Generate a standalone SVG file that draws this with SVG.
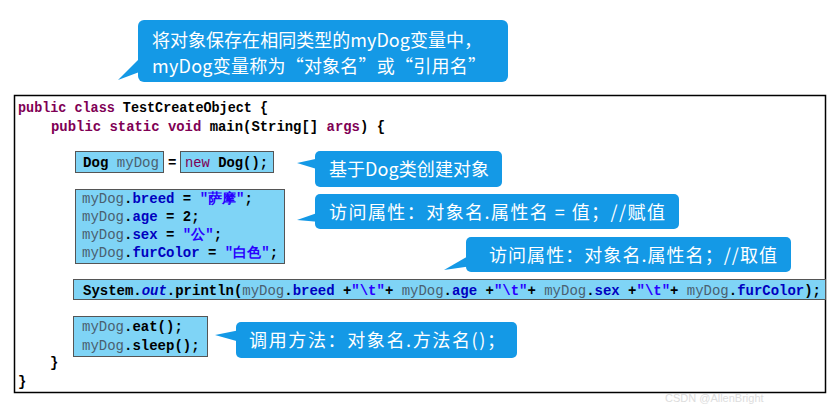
<svg xmlns="http://www.w3.org/2000/svg" width="839" height="413" viewBox="0 0 839 413">
<style>
.code{font-family:"Liberation Mono","DejaVu Sans Mono",monospace;font-size:14px;font-weight:bold;fill:#000}
.kw{fill:#7f0055}.fd{fill:#0000c0}.st{fill:#2a00ff}.vr{fill:#4a6070;font-weight:normal}
.hl{fill:#7fd4f6;stroke:#555;stroke-width:1}
.co{fill:#1499e6}
.ct{font-family:"Noto Sans CJK SC","Noto Sans",sans-serif;font-size:18px;fill:#fff}
</style>
<rect width="839" height="413" fill="#fff"/>
<g id="codebox">
<rect x="14.5" y="95.5" width="811" height="297" fill="#fff" stroke="#000" stroke-width="1.5"/>
<text class="code" x="18" y="112" textLength="250" lengthAdjust="spacingAndGlyphs"><tspan class="kw">public class</tspan> TestCreateObject {</text>
<text class="code" x="51" y="131" textLength="334" lengthAdjust="spacingAndGlyphs"><tspan class="kw">public static void</tspan> main(String[] <tspan class="kw">args</tspan>) {</text>
<text class="code" x="50" y="367">}</text>
<text class="code" x="18" y="386">}</text>
</g>
<g id="create">
<rect class="hl" x="75.5" y="151.5" width="88" height="21"/>
<rect class="hl" x="180.5" y="151.5" width="93" height="21"/>
<text class="code" x="83" y="167" textLength="76" lengthAdjust="spacingAndGlyphs">Dog <tspan class="vr">myDog</tspan></text>
<text class="code" x="168" y="167">=</text>
<text class="code" x="185" y="167" textLength="83" lengthAdjust="spacingAndGlyphs"><tspan class="kw" font-weight="normal">new</tspan> Dog();</text>
</g>
<g id="assign">
<rect class="hl" x="75.5" y="189.5" width="209" height="74"/>
<text class="code" x="82" y="203"><tspan class="vr">myDog</tspan>.<tspan class="fd">breed</tspan> = <tspan class="st">"萨摩"</tspan>;</text>
<text class="code" x="82" y="221"><tspan class="vr">myDog</tspan>.<tspan class="fd">age</tspan> = 2;</text>
<text class="code" x="82" y="239"><tspan class="vr">myDog</tspan>.<tspan class="fd">sex</tspan> = <tspan class="st">"公"</tspan>;</text>
<text class="code" x="82" y="257"><tspan class="vr">myDog</tspan>.<tspan class="fd">furColor</tspan> = <tspan class="st">"白色"</tspan>;</text>
</g>
<g id="println">
<rect class="hl" x="73.5" y="279.5" width="752" height="20"/>
<text class="code" x="83" y="295" textLength="738" lengthAdjust="spacingAndGlyphs">System.<tspan class="fd" font-style="italic">out</tspan>.println(<tspan class="vr">myDog</tspan>.<tspan class="fd">breed</tspan> +<tspan class="st">"\t"</tspan>+ <tspan class="vr">myDog</tspan>.<tspan class="fd">age</tspan> +<tspan class="st">"\t"</tspan>+ <tspan class="vr">myDog</tspan>.<tspan class="fd">sex</tspan> +<tspan class="st">"\t"</tspan>+ <tspan class="vr">myDog</tspan>.<tspan class="fd">furColor</tspan>);</text>
</g>
<g id="methods">
<rect class="hl" x="73.5" y="316.5" width="134" height="40"/>
<text class="code" x="82" y="331"><tspan class="vr">myDog</tspan>.eat();</text>
<text class="code" x="82" y="350"><tspan class="vr">myDog</tspan>.sleep();</text>
</g>
<g id="connectors">
<path class="co" d="M148 50 L118 80 L150 68 Z"/>
<path class="co" d="M320 158 L297 163 L320 170 Z"/>
<path class="co" d="M320 212 L297 220 L320 222 Z"/>
<path class="co" d="M470 255 L444 270 L472 266 Z"/>
<path class="co" d="M240 330 L215 335 L240 342 Z"/>
</g>
<g id="callout-top">
<rect class="co" x="138" y="20" width="370" height="62" rx="6"/>
<text class="ct" x="152" y="47" textLength="330">将对象保存在相同类型的myDog变量中，</text>
<text class="ct" x="152" y="73" textLength="334">myDog变量称为“对象名”或“引用名”</text>
</g>
<g id="callout-create">
<rect class="co" x="315" y="151" width="187" height="36" rx="5"/>
<text class="ct" x="329" y="176" textLength="160">基于Dog类创建对象</text>
</g>
<g id="callout-set">
<rect class="co" x="315" y="194" width="364" height="35" rx="5"/>
<text class="ct" x="329" y="219" textLength="336">访问属性：对象名.属性名 = 值；//赋值</text>
</g>
<g id="callout-get">
<rect class="co" x="466" y="237" width="325" height="35" rx="5"/>
<text class="ct" x="489" y="262" textLength="288">访问属性：对象名.属性名；//取值</text>
</g>
<g id="callout-method">
<rect class="co" x="236" y="322" width="281" height="36" rx="5"/>
<text class="ct" x="249" y="347" textLength="256">调用方法：对象名.方法名()；</text>
</g>
<text x="665" y="402" font-family="Liberation Sans,sans-serif" font-size="11" fill="#ddd">CSDN @AllenBright</text>
</svg>
